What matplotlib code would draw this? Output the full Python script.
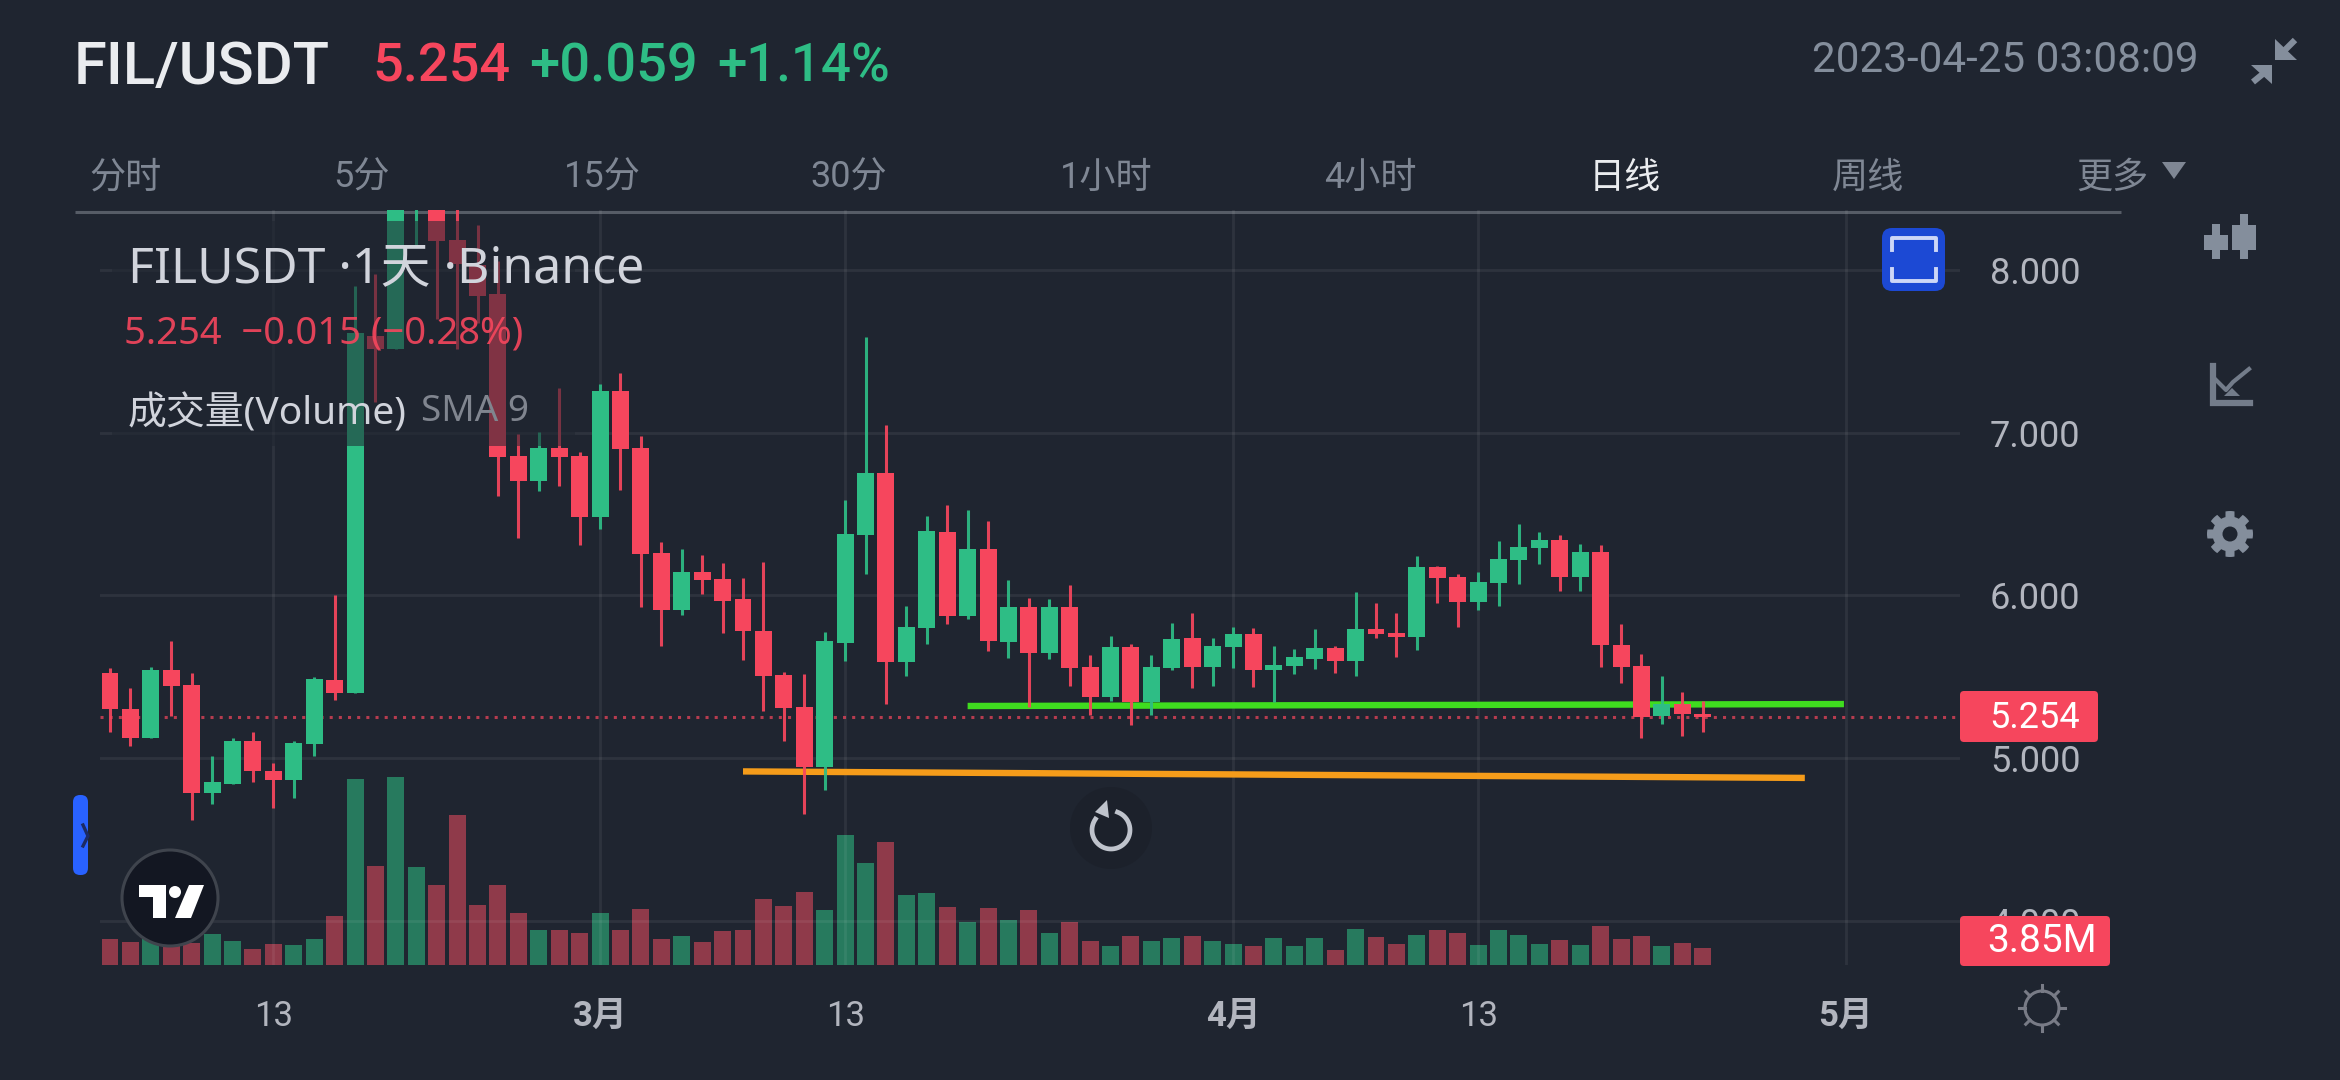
import numpy as np
import pandas as pd
import matplotlib
matplotlib.use('Agg')
import matplotlib.pyplot as plt
import matplotlib.dates as mdates
from matplotlib.patches import Rectangle, Circle, FancyBboxPatch, Polygon

# Daily candles, 5 Feb to 24 Apr 2023 (values above 8.37 are cut off in the picture, estimated)
dates = pd.date_range('2023-02-05', '2023-04-24')
opens = [5.520, 5.302, 5.123, 5.542, 5.450, 4.787, 4.843, 5.106, 4.918, 4.868, 5.088, 5.482, 5.402, 7.597, 7.514, 8.800, 8.850, 8.184, 8.029, 7.853, 6.857, 6.704, 6.905, 6.857,
         6.484, 7.257, 6.906, 6.261, 5.911, 6.146, 6.101, 5.978, 5.782, 5.511, 5.314, 4.946, 5.708, 6.372, 6.753, 5.591, 5.800, 6.390, 5.874, 6.286, 5.714, 5.929, 5.646, 5.929, 5.560,
         5.377, 5.683, 5.344, 5.551, 5.738, 5.560, 5.683, 5.762, 5.541, 5.566, 5.609, 5.676, 5.596, 5.793, 5.769, 5.744, 6.176, 6.113, 5.959, 6.076, 6.217, 6.291, 6.340, 6.113, 6.266, 5.695, 5.566, 5.258, 5.332, 5.269]
closes = [5.299, 5.123, 5.542, 5.440, 4.787, 4.850, 5.106, 4.918, 4.868, 5.093, 5.487, 5.402, 7.615, 7.514, 8.750, 9.100, 8.179, 8.034, 7.840, 6.849, 6.704, 6.905, 6.849, 6.483,
          7.257, 6.900, 6.255, 5.911, 6.146, 6.095, 5.966, 5.782, 5.505, 5.310, 4.946, 5.720, 6.378, 6.753, 5.591, 5.806, 6.396, 5.874, 6.286, 5.720, 5.929, 5.646, 5.929, 5.554, 5.376,
          5.683, 5.344, 5.560, 5.732, 5.560, 5.689, 5.762, 5.541, 5.572, 5.621, 5.676, 5.596, 5.793, 5.762, 5.744, 6.174, 6.107, 5.959, 6.082, 6.223, 6.297, 6.340, 6.113, 6.266, 5.695, 5.560, 5.254, 5.332, 5.269, 5.254]
highs = [5.552, 5.430, 5.562, 5.721, 5.520, 5.013, 5.123, 5.161, 4.968, 5.106, 5.500, 6.001, 7.903, 7.978, 8.900, 9.300, 9.200, 8.600, 8.274, 8.054, 6.995, 7.005, 7.276, 6.880,
         7.300, 7.369, 6.980, 6.331, 6.285, 6.249, 6.202, 6.109, 6.206, 5.530, 5.517, 5.773, 6.587, 7.586, 7.048, 5.935, 6.488, 6.556, 6.525, 6.458, 6.095, 5.984, 5.978, 6.064, 5.634,
         5.750, 5.699, 5.633, 5.830, 5.894, 5.738, 5.807, 5.799, 5.689, 5.670, 5.793, 5.689, 6.021, 5.955, 5.894, 6.242, 6.182, 6.131, 6.146, 6.334, 6.438, 6.389, 6.371, 6.316, 6.309, 5.824, 5.639, 5.504, 5.406, 5.352]
lows = [5.161, 5.073, 5.123, 5.256, 4.617, 4.717, 4.843, 4.855, 4.692, 4.755, 5.010, 5.357, 5.402, 7.188, 7.514, 8.154, 7.702, 7.514, 7.677, 6.611, 6.353, 6.641, 6.674, 6.310,
        6.408, 6.648, 5.931, 5.689, 5.880, 6.007, 5.767, 5.603, 5.292, 5.105, 4.657, 4.804, 5.597, 6.132, 5.333, 5.505, 5.702, 5.825, 5.855, 5.659, 5.616, 5.316, 5.609, 5.443, 5.265,
        5.351, 5.203, 5.265, 5.541, 5.431, 5.443, 5.551, 5.437, 5.346, 5.517, 5.547, 5.523, 5.504, 5.740, 5.621, 5.664, 5.951, 5.805, 5.910, 5.934, 6.070, 6.193, 6.027, 6.027, 5.560, 5.459, 5.121, 5.209, 5.136, 5.160]
volumes = [5.96, 5.29, 6.4, 4.5, 5.0, 7.10, 5.44, 3.70, 4.83, 4.53, 5.96, 11.17, 42.1, 22.4, 42.6, 22.2, 18.1, 34.0, 13.6, 18.1, 11.8, 7.93, 7.93, 7.25,
           11.8, 7.93, 12.7, 5.89, 6.57, 5.29, 7.70, 7.93, 14.9, 13.4, 16.5, 12.5, 29.4, 23.1, 27.9, 15.9, 16.3, 13.1, 9.74, 12.9, 10.2, 12.5, 7.25, 9.74, 5.44,
           4.30, 6.57, 5.44, 6.12, 6.57, 5.44, 4.76, 4.30, 6.12, 4.30, 6.12, 3.40, 8.15, 6.34, 4.76, 6.80, 7.93, 7.25, 4.53, 7.93, 6.80, 4.76, 5.66, 4.53, 8.83, 5.89, 6.57, 4.30, 4.98, 3.85]

last_price = 5.254
price_ticks = [4, 5, 6, 7, 8]
date_ticks = ['2023-02-13', '2023-03-01', '2023-03-13', '2023-04-01', '2023-04-13', '2023-05-01']
date_labels = ['13', '3月', '13', '4月', '13', '5月']
tabs = ['分时', '5分', '15分', '30分', '1小时', '4小时', '日线', '周线']
tab_x = [126, 362, 602, 849, 1106, 1370, 1625, 1868]

# Trend lines drawn by hand on the chart
green_dates = ['2023-03-19 00:00', '2023-04-30 22:00']
green_prices = [5.320, 5.332]
orange_dates = ['2023-03-08', '2023-04-29']
orange_prices = [4.918, 4.878]

BG = '#1f2530'
RED = '#f6465d'
GREEN = '#2ebd85'
RED_VOL = '#8f3a4a'
GREEN_VOL = '#277a5e'
ICON = '#848e9c'
WIDTH, HEIGHT = 2340, 1080

plt.rcParams['font.family'] = ['Roboto', 'Noto Sans CJK SC', 'DejaVu Sans']

fig = plt.figure(figsize=(WIDTH / 100, HEIGHT / 100), dpi=100, facecolor=BG)


def pixel_axes(zorder):
    # axes covering the whole figure, measured in pixels from the top left
    a = fig.add_axes([0, 0, 1, 1], zorder=zorder)
    a.set_xlim(0, WIDTH)
    a.set_ylim(HEIGHT, 0)
    a.axis('off')
    return a


back = pixel_axes(0)
back.plot([75, 2121], [212, 212], color='#565c66', lw=2.2, solid_capstyle='butt')

# Chart area runs from x=100..1960, y=210..965 in the picture
pos = [100 / WIDTH, (HEIGHT - 965) / HEIGHT, 1860 / WIDTH, 755 / HEIGHT]
ax_vol = fig.add_axes(pos, zorder=1)
ax = fig.add_axes(pos, zorder=2)
ax.patch.set_visible(False)
ax_vol.patch.set_visible(False)

x = mdates.date2num(dates)
o = np.array(opens)
c = np.array(closes)
up = c >= o
xlim = (mdates.date2num(pd.Timestamp('2023-03-01')) - 24.49, mdates.date2num(pd.Timestamp('2023-03-01')) + 66.6)

# Volume
ax_vol.bar(x, volumes, width=0.83, color=np.where(up, GREEN_VOL, RED_VOL), linewidth=0)
ax_vol.set_xlim(xlim)
ax_vol.set_ylim(0, 171)
ax_vol.axis('off')

# Grid and axes
ax.set_xlim(xlim)
ax.set_ylim(3.728, 8.369)
ax.set_yticks(price_ticks)
ax.set_yticklabels(['%.3f' % p for p in price_ticks])
ax.set_xticks(mdates.date2num(pd.to_datetime(date_ticks)))
ax.set_xticklabels(date_labels)
ax.yaxis.tick_right()
ax.tick_params(axis='y', length=0, labelsize=26, labelcolor='#b2b5be', pad=21.5)
ax.tick_params(axis='x', length=0, labelsize=25, labelcolor='#b2b5be', pad=25)
for lab, text in zip(ax.get_xticklabels(), date_labels):
    if '月' in text:
        lab.set_fontweight('bold')
ax.grid(True, color='white', alpha=0.065, lw=2)
ax.set_axisbelow(True)
for s in ax.spines.values():
    s.set_visible(False)

# Hand drawn lines, last price line
ax.plot(pd.to_datetime(green_dates), green_prices, color='#3fdc1f', lw=4.6, solid_capstyle='butt', zorder=2)
ax.plot(pd.to_datetime(orange_dates), orange_prices, color='#f59c1a', lw=4.6, solid_capstyle='butt', zorder=2)
ax.axhline(last_price, color=RED, alpha=0.7, lw=2.2, dashes=(1, 2), zorder=2)

# Candles
colors = np.where(up, GREEN, RED)
ax.vlines(x, lows, highs, colors=colors, lw=2.2, alpha=0.92, zorder=3)
ax.bar(x, np.abs(c - o), bottom=np.minimum(o, c), width=0.83, color=colors, linewidth=0, zorder=4)

top = pixel_axes(3)
# Legend backdrop dims what is under it
top.add_patch(Rectangle((112, 221), 463, 225, facecolor=BG, alpha=0.55, edgecolor='none'))


def label(px, py, s, color, size, ha='left', **kw):
    top.text(px, py, s, color=color, fontsize=size, ha=ha, va='center', **kw)


# Header
label(74, 67, 'FIL/USDT', '#eaecef', 43, fontweight='medium')
label(372, 67, '5.254', RED, 39, fontweight='medium')
label(529, 67, '+0.059', GREEN, 39, fontweight='medium')
label(717, 67, '+1.14%', GREEN, 38, fontweight='medium')
label(2199, 61, '2023-04-25 03:08:09', ICON, 30.3, ha='right')

# Time frame tabs
for tx, t in zip(tab_x, tabs):
    label(tx, 178, t, '#eaecef' if t == '日线' else '#7f8794', 26, ha='center')
label(2149, 178, '更多', '#7f8794', 26, ha='right')
top.add_patch(Polygon([[2162, 162], [2186, 162], [2174, 179]], color='#7f8794', lw=0))

# Chart legend
LEG = ['Noto Sans', 'Noto Sans CJK SC', 'DejaVu Sans']
label(128, 269, 'FILUSDT ·1天 ·Binance', '#d1d4dc', 36, family=LEG)
label(124, 333, '5.254  −0.015 (−0.28%)', RED, 27.5, alpha=0.9, family=LEG)
label(128, 414, '成交量(Volume)', '#d1d4dc', 28, family=LEG)
label(421, 412, 'SMA 9', '#80858f', 26.5, family=LEG)

# Price tags
for y0, y1, right, txt, tx, size in [(691, 742, 2098, '5.254', 2035, 26), (916, 966, 2110, '3.85M', 2042, 28)]:
    top.add_patch(FancyBboxPatch((1960, y0), right - 1960, y1 - y0, boxstyle='round,pad=0,rounding_size=4',
                                 facecolor=RED, edgecolor='none'))
    label(tx, (y0 + y1) / 2 + 1, txt, 'white', size, ha='center')

# Blue full screen button
top.add_patch(FancyBboxPatch((1882, 228), 63, 63, boxstyle='round,pad=0,rounding_size=10', facecolor='#1c49d4', edgecolor='none'))
top.plot([1892, 1892, 1936, 1936], [250, 238, 238, 250], color='#cdd7f7', lw=2.8)
top.plot([1892, 1892, 1936, 1936], [269, 281, 281, 269], color='#cdd7f7', lw=2.8)

# Side tool icons
for cx, w0, w1, b0, b1 in [(2215.6, 224, 259, 235, 250), (2244, 214, 259, 225, 250)]:
    top.add_patch(Rectangle((cx - 4, w0), 8, w1 - w0, color=ICON, lw=0))
    top.add_patch(Rectangle((cx - 12, b0), 24, b1 - b0, color=ICON, lw=0))
top.plot([2213, 2213, 2250], [366, 403, 403], color='#737c8a', lw=4.5, solid_joinstyle='miter')
top.plot([2216, 2226, 2233, 2249], [380, 390, 382, 369], color='#737c8a', lw=3)
top.add_patch(Polygon([[2224, 396], [2232, 388], [2240, 396]], color='#737c8a', lw=0))

# Gear
ang = np.linspace(0, 2 * np.pi, 97)[:-1]
rad = np.where(np.cos(8 * ang) > -0.1, 23, 17.5)
top.add_patch(Polygon(np.c_[2230 + rad * np.cos(ang), 534 + rad * np.sin(ang)], color=ICON, lw=0))
top.add_patch(Circle((2230, 534), 7.5, color=BG, lw=0))

# Collapse arrows, top right
top.add_patch(Polygon([[2275, 39], [2275, 60], [2297, 60]], color=ICON, lw=0))
top.plot([2283, 2295], [52, 40], color=ICON, lw=4.5, solid_capstyle='butt')
top.add_patch(Polygon([[2251, 65], [2272, 65], [2272, 84]], color=ICON, lw=0))
top.plot([2264, 2253], [73, 82], color=ICON, lw=4.5, solid_capstyle='butt')

# Reset button
top.add_patch(Circle((1111, 828), 41, color='#1c212b', lw=0))
t = np.radians(np.linspace(-70, 215, 50))
top.plot(1111 + 19 * np.cos(t), 830 + 19 * np.sin(t), color='#bfc3cc', lw=3.4)
top.add_patch(Polygon([[1095, 812], [1107, 800], [1109, 818]], color='#bfc3cc', lw=0))

# Collapsed panel handle, TradingView logo
top.add_patch(FancyBboxPatch((73, 795), 15, 80, boxstyle='round,pad=0,rounding_size=7', facecolor='#2962ff', edgecolor='none'))
top.plot([83, 88, 83], [825, 836, 846], color='#1c2b63', lw=2.4)
top.add_patch(Circle((170, 898), 48, facecolor='#131722', edgecolor='#3f444d', lw=2.2))
top.add_patch(Polygon([[139, 885], [166, 885], [166, 918], [153, 918], [153, 897], [139, 897]], color='white', lw=0))
top.add_patch(Circle((175, 892), 6, color='white', lw=0))
top.add_patch(Polygon([[189, 885], [204, 885], [191, 918], [175, 918]], color='white', lw=0))

# Sun icon bottom right
top.add_patch(Circle((2042, 1008), 17, facecolor='none', edgecolor='#787b86', lw=2.2))
for a in np.radians(np.arange(0, 360, 45)):
    top.plot([2042 + 17 * np.cos(a), 2042 + 23 * np.cos(a)], [1008 + 17 * np.sin(a), 1008 + 23 * np.sin(a)], color='#787b86', lw=2.2)

fig.savefig('out.png', dpi=100, facecolor=BG)
